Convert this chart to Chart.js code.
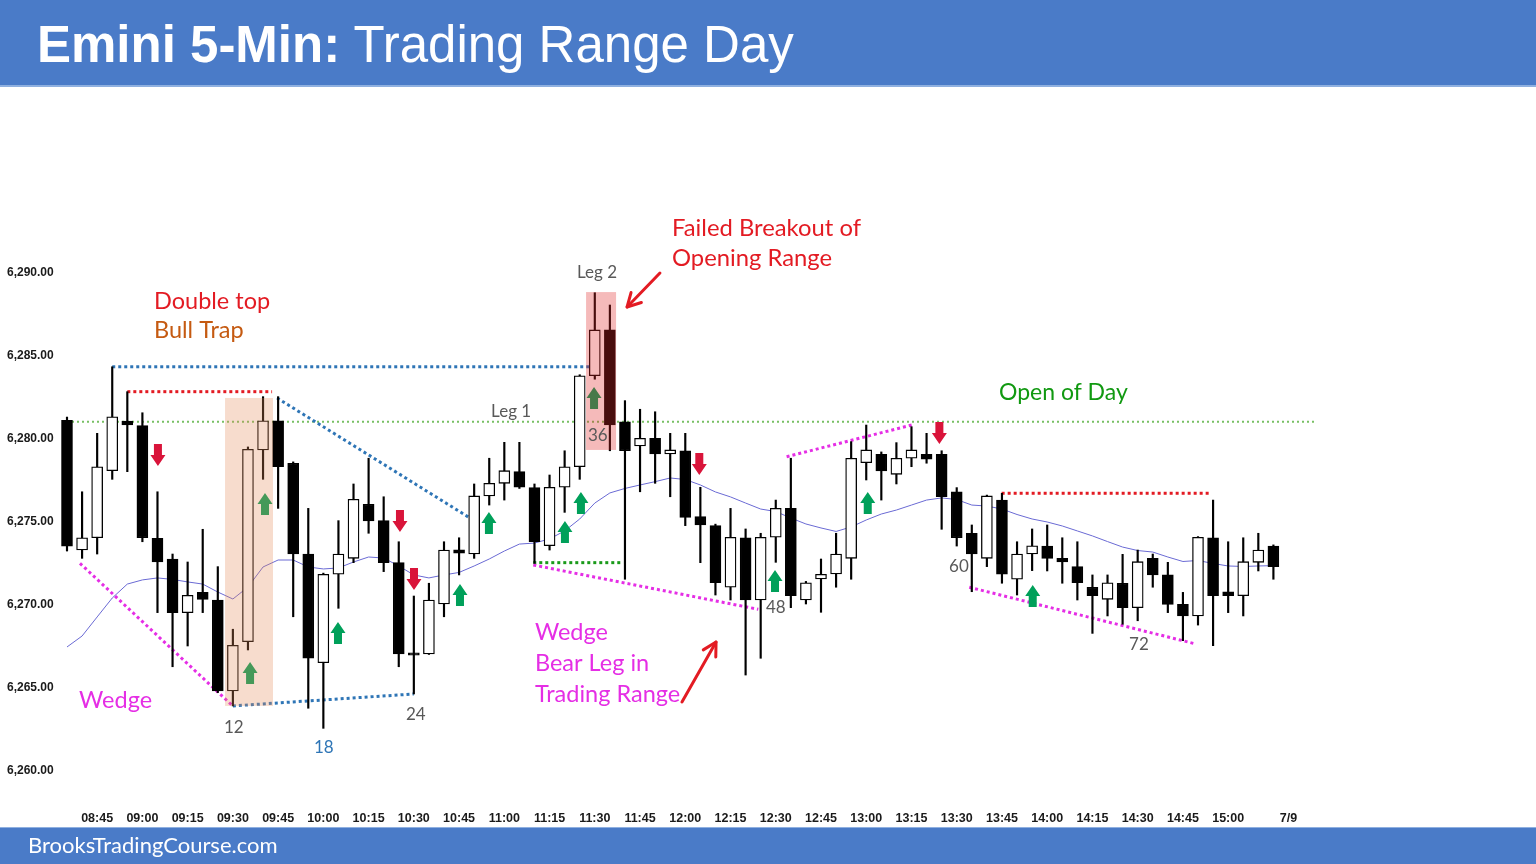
<!DOCTYPE html>
<html><head><meta charset="utf-8">
<script src="https://cdn.jsdelivr.net/npm/chart.js@4.4.1/dist/chart.umd.min.js"></script>
<style>
html,body{margin:0;padding:0;background:#fff;width:1536px;height:864px;overflow:hidden;position:relative;}
canvas{position:absolute;left:0;top:0;}
#hdr{position:absolute;left:0;top:0;width:1536px;height:85px;background:#4a7bc8;border-bottom:2px solid #8fb0e0;}
#ttl{position:absolute;left:37px;top:19px;font-family:'Liberation Sans',Arial,sans-serif;font-size:51px;line-height:1;color:#fff;white-space:nowrap;}
#ftr{position:absolute;left:0;top:827px;width:1536px;height:37px;background:#4a7bc8;border-top:1px solid #8fb0e0;}
#ftr div{position:absolute;left:28px;top:-2px;line-height:37px;font-family:Lato,'Open Sans',sans-serif;font-size:22px;color:#fff;}
</style></head>
<body>
<canvas id="c" width="1536" height="864"></canvas>
<div id="hdr"><div id="ttl"><b>Emini 5-Min:</b> Trading Range Day</div></div>
<div id="ftr"><div>BrooksTradingCourse.com</div></div>
<script>
// ---- Data (5-minute bars, bar 1 = 08:35) ----
const opens = [6281.00,6273.19,6273.93,6277.97,6280.96,6280.68,6273.90,6272.65,6269.42,6270.64,
6270.18,6264.70,6267.67,6279.22,6280.98,6278.42,6272.95,6266.40,6271.73,6272.69,
6275.95,6274.96,6272.43,6267.00,6266.93,6269.94,6273.20,6272.95,6276.45,6277.21,
6277.91,6276.95,6273.45,6276.97,6278.21,6283.69,6286.45,6280.92,6279.46,6279.92,
6278.98,6279.17,6275.20,6274.66,6270.95,6273.93,6270.18,6273.96,6275.70,6270.18,
6271.45,6271.75,6272.69,6278.45,6278.96,6277.75,6278.72,6278.96,6278.96,6276.70,
6274.20,6272.69,6276.20,6271.43,6272.95,6273.43,6272.69,6272.19,6270.95,6270.22,
6271.19,6269.72,6272.69,6271.69,6269.92,6269.22,6273.93,6270.68,6270.44,6272.45,6273.43];
const highs = [6281.20,6276.70,6280.22,6284.23,6282.73,6281.46,6276.70,6272.95,6272.47,6274.44,
6272.19,6268.42,6279.40,6282.43,6282.43,6278.50,6275.70,6271.80,6274.96,6277.17,
6278.72,6276.40,6273.69,6270.42,6271.19,6273.69,6273.93,6277.17,6278.72,6279.68,
6279.68,6277.17,6277.71,6279.17,6283.75,6288.69,6287.95,6282.19,6281.67,6281.52,
6280.22,6280.22,6276.97,6274.75,6275.70,6274.46,6274.20,6276.20,6278.72,6271.30,
6272.65,6274.20,6279.72,6280.72,6279.10,6279.66,6280.62,6280.22,6279.17,6276.95,
6274.70,6276.50,6276.61,6273.69,6274.46,6274.70,6273.93,6273.69,6271.69,6271.69,
6272.93,6273.19,6272.95,6272.45,6270.64,6274.00,6276.20,6273.69,6273.93,6274.20,6273.50];
const lows = [6273.13,6272.69,6272.95,6277.45,6277.91,6273.69,6269.42,6266.16,6267.41,6269.42,
6264.60,6263.80,6267.17,6277.45,6275.70,6269.17,6263.66,6262.45,6269.68,6272.43,
6274.20,6271.89,6266.16,6264.52,6266.90,6269.17,6271.69,6272.69,6275.90,6276.20,
6276.90,6272.39,6273.19,6275.46,6277.45,6283.48,6279.17,6271.43,6276.70,6277.21,
6276.40,6274.66,6272.43,6270.48,6270.18,6265.66,6266.67,6272.45,6269.72,6269.94,
6269.44,6270.95,6271.43,6277.41,6276.20,6277.17,6278.21,6278.42,6274.44,6273.43,
6270.68,6272.19,6271.19,6270.48,6271.95,6271.93,6271.19,6270.18,6268.17,6269.22,
6268.72,6268.93,6270.95,6269.42,6267.73,6268.67,6267.43,6269.42,6269.22,6271.93,6271.43];
const closes = [6273.43,6273.93,6278.21,6281.22,6280.72,6273.93,6272.47,6269.42,6270.46,6270.22,
6264.70,6267.45,6279.26,6280.98,6278.21,6272.95,6266.67,6271.73,6272.95,6276.25,
6274.94,6272.43,6266.93,6266.85,6270.18,6273.19,6273.00,6276.45,6277.21,6277.97,
6276.97,6273.69,6276.97,6278.21,6283.69,6286.45,6280.72,6279.17,6279.92,6278.98,
6279.22,6275.16,6274.70,6271.22,6273.96,6270.18,6273.96,6275.70,6270.44,6271.22,
6271.73,6272.95,6278.72,6279.22,6277.95,6278.72,6279.22,6278.67,6276.40,6273.93,
6272.95,6276.45,6271.73,6272.95,6273.45,6272.69,6272.47,6271.22,6270.44,6271.22,
6269.72,6272.49,6271.69,6269.92,6269.22,6273.96,6270.44,6270.44,6272.49,6273.19,6272.19];
const ema20 = [6267.35,6268.01,6269.16,6270.30,6271.14,6271.39,6271.51,6271.42,6271.27,6271.14,
6270.66,6270.24,6270.96,6272.17,6272.59,6272.59,6272.17,6272.05,6272.11,6272.47,
6272.77,6272.71,6272.23,6271.69,6271.51,6271.69,6271.84,6272.23,6272.65,6273.13,
6273.55,6273.61,6273.86,6274.34,6275.06,6276.02,6276.63,6276.90,6277.11,6277.31,
6277.53,6277.44,6277.11,6276.69,6276.39,6276.02,6275.66,6275.51,6275.12,6274.76,
6274.52,6274.31,6274.58,6275.00,6275.36,6275.60,6275.90,6276.20,6276.33,6276.23,
6275.90,6275.84,6275.66,6275.33,6275.06,6274.88,6274.64,6274.34,6274.04,6273.70,
6273.37,6273.16,6273.07,6272.77,6272.50,6272.56,6272.38,6272.23,6272.20,6272.23,6272.25];
const tickBars = [3,6,9,12,15,18,21,24,27,30,33,36,39,42,45,48,51,54,57,60,63,66,69,72,75,78,82];
const tickLabels = ['08:45','09:00','09:15','09:30','09:45','10:00','10:15','10:30','10:45','11:00','11:15','11:30','11:45','12:00','12:15','12:30','12:45','13:00','13:15','13:30','13:45','14:00','14:15','14:30','14:45','15:00','7/9'];
const priceTicks = [6260,6265,6270,6275,6280,6285,6290];

// ---- Annotations (in bar / price units) ----
const dotted = [
  {a:[4,6284.23], b:[36.1,6284.23], c:'#2e75b6', w:3, d:[3,3]},
  {a:[5,6282.73], b:[14.6,6282.73], c:'#e31b23', w:3, d:[3,3]},
  {a:[1,6280.92], b:[83.8,6280.92], c:'#78c064', w:2, d:[2,3]},
  {a:[14.93,6282.35], b:[27.72,6275.12], c:'#2e75b6', w:3, d:[3,3]},
  {a:[12.0,6263.80], b:[24.0,6264.52], c:'#2e75b6', w:3, d:[3,3]},
  {a:[1.86,6272.39], b:[11.92,6263.86], c:'#e52ee5', w:3, d:[3,3]},
  {a:[31.92,6272.43], b:[37.89,6272.43], c:'#1a9a1a', w:3, d:[3,3]},
  {a:[31.92,6272.29], b:[46.84,6269.62], c:'#e52ee5', w:3, d:[3,3]},
  {a:[48.72,6278.81], b:[57.01,6280.72], c:'#e52ee5', w:3, d:[3,3]},
  {a:[62.98,6276.61], b:[76.80,6276.61], c:'#e31b23', w:3, d:[3,3]},
  {a:[60.83,6270.95], b:[75.69,6267.57], c:'#e52ee5', w:3, d:[3,3]}
];
const boxes = [
  {x0:11.48, x1:14.66, y0:6282.35, y1:6263.80, c:'rgba(230,140,90,0.30)'},
  {x0:35.42, x1:37.41, y0:6288.73, y1:6279.22, c:'rgba(225,40,40,0.32)'}
];
const downArrows = [[7.03,6278.92],[23.08,6274.94],[24.01,6271.45],[42.93,6278.37],[58.85,6280.24]];
const upArrows = [[13.14,6265.78],[14.13,6275.96],[18.97,6268.19],[27.06,6270.48],[28.98,6274.82],[34.02,6274.28],[35.08,6276.02],[35.95,6282.35],[47.95,6271.33],[54.10,6276.02],[65.04,6270.42]];
const bigArrows = [
  {t:[40.32,6289.88], h:[38.14,6287.83]},
  {t:[41.78,6264.04], h:[44.04,6267.65]}
];
const texts = [
  {s:'Failed Breakout of', x:41.12, y:6292.59, c:'#e31b23', f:23.8},
  {s:'Opening Range', x:41.12, y:6290.78, c:'#e31b23', f:23.8},
  {s:'Double top', x:6.77, y:6288.19, c:'#e31b23', f:23.5},
  {s:'Bull Trap', x:6.77, y:6286.39, c:'#c55a11', f:23.5},
  {s:'Leg 2', x:34.82, y:6289.88, c:'#595959', f:17},
  {s:'Leg 1', x:29.12, y:6281.51, c:'#595959', f:17},
  {s:'36', x:35.55, y:6280.06, c:'#595959', f:17},
  {s:'Open of Day', x:62.80, y:6282.65, c:'#119911', f:23},
  {s:'Wedge', x:1.80, y:6264.16, c:'#e52ee5', f:23.5},
  {s:'12', x:11.41, y:6262.47, c:'#595959', f:17},
  {s:'18', x:17.38, y:6261.27, c:'#2e75b6', f:17},
  {s:'24', x:23.48, y:6263.31, c:'#595959', f:17},
  {s:'48', x:47.35, y:6269.70, c:'#595959', f:17},
  {s:'60', x:59.49, y:6272.17, c:'#595959', f:17},
  {s:'72', x:71.43, y:6267.47, c:'#595959', f:17},
  {s:'Wedge', x:32.03, y:6268.25, c:'#e52ee5', f:23.5},
  {s:'Bear Leg in', x:32.03, y:6266.39, c:'#e52ee5', f:23.5},
  {s:'Trading Range', x:32.03, y:6264.52, c:'#e52ee5', f:23.5}
];

const annot = {
  id:'annot',
  beforeDatasetsDraw(chart){
    const ctx=chart.ctx, X=chart.scales.x, Y=chart.scales.y;
    ctx.save();
    dotted.forEach(l=>{
      ctx.beginPath();
      ctx.strokeStyle=l.c; ctx.lineWidth=l.w; ctx.setLineDash(l.d);
      ctx.moveTo(X.getPixelForValue(l.a[0]),Y.getPixelForValue(l.a[1]));
      ctx.lineTo(X.getPixelForValue(l.b[0]),Y.getPixelForValue(l.b[1]));
      ctx.stroke();
    });
    ctx.restore();
  },
  afterDatasetsDraw(chart){
    const ctx=chart.ctx, X=chart.scales.x, Y=chart.scales.y;
    ctx.save();
    const block=(cx,cy,dir,col)=>{
      ctx.fillStyle=col; ctx.beginPath();
      const s=dir; // -1 up, 1 down
      ctx.moveTo(cx,cy+11*s);
      ctx.lineTo(cx+7.5,cy);
      ctx.lineTo(cx+4,cy);
      ctx.lineTo(cx+4,cy-11*s);
      ctx.lineTo(cx-4,cy-11*s);
      ctx.lineTo(cx-4,cy);
      ctx.lineTo(cx-7.5,cy);
      ctx.closePath(); ctx.fill();
    };
    downArrows.forEach(p=>block(X.getPixelForValue(p[0]),Y.getPixelForValue(p[1]),1,'#d9143a'));
    upArrows.forEach(p=>block(X.getPixelForValue(p[0]),Y.getPixelForValue(p[1]),-1,'#00a05a'));
    boxes.forEach(b=>{
      const x0=X.getPixelForValue(b.x0), x1=X.getPixelForValue(b.x1), y0=Y.getPixelForValue(b.y0), y1=Y.getPixelForValue(b.y1);
      ctx.fillStyle=b.c; ctx.fillRect(x0,y0,x1-x0,y1-y0);
    });
    bigArrows.forEach(a=>{
      const tx=X.getPixelForValue(a.t[0]), ty=Y.getPixelForValue(a.t[1]);
      const hx=X.getPixelForValue(a.h[0]), hy=Y.getPixelForValue(a.h[1]);
      const ang=Math.atan2(hy-ty,hx-tx);
      ctx.strokeStyle='#e31b23'; ctx.lineWidth=3; ctx.lineCap='round'; ctx.lineJoin='round';
      ctx.beginPath(); ctx.moveTo(tx,ty); ctx.lineTo(hx,hy); ctx.stroke();
      ctx.beginPath();
      ctx.moveTo(hx-15*Math.cos(ang-0.5),hy-15*Math.sin(ang-0.5));
      ctx.lineTo(hx,hy);
      ctx.lineTo(hx-15*Math.cos(ang+0.5),hy-15*Math.sin(ang+0.5));
      ctx.stroke();
    });
    ctx.textBaseline='middle'; ctx.textAlign='left';
    texts.forEach(t=>{
      ctx.font=t.f+'px Lato, "Open Sans", sans-serif';
      ctx.fillStyle=t.c;
      ctx.fillText(t.s, X.getPixelForValue(t.x), Y.getPixelForValue(t.y));
    });
    ctx.restore();
  }
};

const ctx=document.getElementById('c').getContext('2d');
new Chart(ctx,{
  type:'bar',
  data:{datasets:[
    {type:'line', data:ema20.map((v,i)=>({x:i+1,y:v})), borderColor:'#6a6ad4', borderWidth:1, pointRadius:0, tension:0, order:3},
    {type:'bar', data:lows.map((v,i)=>({x:i+1,y:[v,highs[i]]})), backgroundColor:'#000', barThickness:1.5, grouped:false, order:2},
    {type:'bar', data:opens.map((v,i)=>({x:i+1,y:[v,closes[i]]})), backgroundColor:opens.map((v,i)=>closes[i]>v?'#ffffff':'#000000'), borderColor:'#000', borderWidth:1.3, borderSkipped:false, barThickness:11, grouped:false, order:1}
  ]},
  options:{
    responsive:false, animation:false, events:[],
    layout:{padding:{left:7,top:100,right:216,bottom:36}},
    plugins:{legend:{display:false}, tooltip:{enabled:false}},
    scales:{
      x:{type:'linear', min:0.536, max:84.09, offset:false,
        grid:{display:false, drawTicks:false}, border:{display:false},
        afterBuildTicks(s){ s.ticks = tickBars.map(v=>({value:v})); },
        afterFit(s){ s.height=38; },
        ticks:{autoSkip:false, maxRotation:0, padding:21, color:'#1a1a1a', font:{family:'"Liberation Sans", Arial, sans-serif', size:12.5, weight:'bold'},
          callback(v){ const k=tickBars.indexOf(v); return k>=0?tickLabels[k]:''; }}
      },
      y:{type:'linear', min:6258.735, max:6300.30,
        grid:{display:false, drawTicks:false}, border:{display:false},
        afterBuildTicks(s){ s.ticks = priceTicks.map(v=>({value:v})); },
        afterFit(s){ s.width=53; },
        ticks:{crossAlign:'far', padding:0, labelOffset:2, color:'#1a1a1a', font:{family:'"Liberation Sans", Arial, sans-serif', size:12, weight:'bold'},
          callback(v){ return v.toLocaleString('en-US',{minimumFractionDigits:2, maximumFractionDigits:2}); }}
      }
    }
  },
  plugins:[annot]
});
</script>
</body></html>
